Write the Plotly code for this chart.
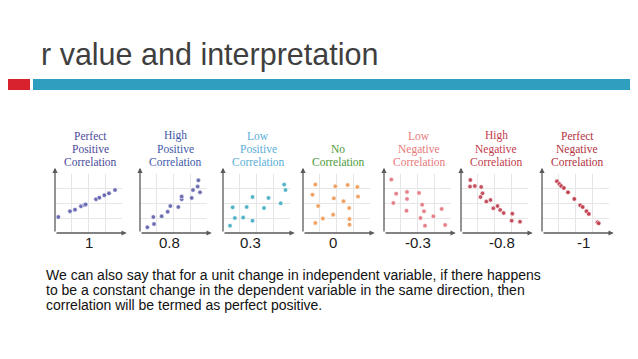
import plotly.graph_objects as go

# ---- data ----
panel_titles = [["Perfect", "Positive", "Correlation"], ["High", "Positive", "Correlation"],
                ["Low", "Positive", "Correlation"], ["No", "Correlation"],
                ["Low", "Negative", "Correlation"], ["High", "Negative", "Correlation"],
                ["Perfect", "Negative", "Correlation"]]
r_labels = ["1", "0.8", "0.3", "0", "-0.3", "-0.8", "-1"]

p1_x = [0.2, 0.9, 1.2, 1.56, 1.76, 1.84, 2.46, 2.66, 2.96, 3.24, 3.6]
p1_y = [1.09, 1.48, 1.59, 1.82, 1.91, 1.95, 2.3, 2.41, 2.57, 2.7, 2.93]
p2_x = [0.44, 0.84, 0.8, 1.3, 1.66, 1.82, 2.3, 2.5, 2.5, 3.1, 3.18, 3.46, 3.5, 3.6]
p2_y = [0.39, 0.61, 1.09, 1.14, 1.45, 1.84, 1.77, 2.3, 2.48, 2.39, 2.93, 3.16, 3.59, 2.77]
p3_x = [0.42, 0.71, 0.58, 1.21, 1.42, 1.77, 1.77, 2.46, 2.73, 3.46, 3.67, 3.75]
p3_y = [0.5, 1.02, 1.75, 1.05, 1.77, 2.45, 0.84, 1.7, 2.39, 2.02, 3.3, 2.93]
p4_x = [0.74, 0.57, 1.94, 2.68, 3.26, 3.3, 1.85, 2.43, 2.77, 0.91, 1.81, 1.19, 0.74, 2.79, 2.79]
p4_y = [3.3, 2.61, 3.18, 3.27, 3.14, 2.48, 2.36, 2.16, 1.7, 1.84, 1.25, 0.98, 0.68, 0.95, 0.57]
p5_x = [0.44, 0.73, 0.56, 1.38, 1.38, 2.1, 1.35, 2.29, 3.46, 2.4, 2.96, 2.19, 2.46, 3.67]
p5_y = [3.64, 2.68, 2.05, 2.8, 2.32, 2.73, 1.52, 1.93, 1.64, 1.48, 1.14, 1.02, 0.5, 0.55]
p6_x = [0.56, 0.54, 0.83, 1.21, 1.29, 1.17, 1.52, 1.77, 1.94, 2.19, 2.35, 2.56, 3.08, 3.04, 3.54]
p6_y = [3.61, 3.16, 3.2, 3.14, 2.7, 2.45, 2.14, 2.25, 1.68, 1.84, 1.57, 1.36, 1.32, 0.84, 0.77]
p7_x = [0.9, 1.04, 1.15, 1.31, 1.56, 1.94, 2.29, 2.44, 2.67, 2.81, 3.33, 3.4]
p7_y = [3.52, 3.34, 3.2, 3.07, 2.77, 2.32, 1.89, 1.77, 1.48, 1.3, 0.73, 0.66]

xs = [p1_x, p2_x, p3_x, p4_x, p5_x, p6_x, p7_x]
ys = [p1_y, p2_y, p3_y, p4_y, p5_y, p6_y, p7_y]

title_text = "r value and interpretation"
body_lines = ["We can also say that for a unit change in independent variable, if there happens",
              "to be a constant change in the dependent variable in the same direction, then",
              "correlation will be termed as perfect positive."]

# ---- styling ----
# the page body has an 8px margin, so the figure is drawn 8px in from the window edge
OFF = 8
W, H = 638 - OFF, 359 - OFF
title_colors = ["#4b4b9c", "#3e58a8", "#5aaed6", "#4f9a3c", "#e87a7c", "#c23c4c", "#b33240"]
dot_colors = ["#6a6ab4", "#6d6db2", "#52b2c8", "#f0a060", "#e5808a", "#c4505f", "#c2404f"]
panel_left = [55, 140, 223, 303, 384, 461, 542]
label_cx = [89, 169, 250, 333, 418, 502, 583]
panel_w = 67
y_bottom, y_top = 233, 174
title_line_y = [136, 149, 162]

def px(x):
    return (x - OFF) / W

def py(y):
    return 1 - (y - OFF) / H

fig = go.Figure()
annotations = []
shapes = []
layout_axes = {}

for i in range(7):
    n = "" if i == 0 else str(i + 1)
    xa, ya = "x" + n, "y" + n
    fig.add_trace(go.Scatter(
        x=xs[i], y=ys[i], mode="markers", xaxis=xa, yaxis=ya,
        marker=dict(size=4.5, color=dot_colors[i], line=dict(width=1, color="rgba(255,255,255,0.6)")),
        showlegend=False, hoverinfo="skip"))
    common = dict(showgrid=True, gridcolor="#e6e6e6", gridwidth=1, dtick=1,
                  showticklabels=False, ticks="", zeroline=False, showline=False,
                  fixedrange=True)
    layout_axes["xaxis" + n] = dict(domain=[px(panel_left[i]), px(panel_left[i] + panel_w)],
                                     range=[0, 4.02], anchor=ya, **common)
    layout_axes["yaxis" + n] = dict(domain=[py(y_bottom), py(y_top)],
                                     range=[0, 4.02], anchor=xa, **common)
    # axes with arrow heads
    for (tx, ty) in [(4.3, 0), (0, 4.45)]:
        annotations.append(dict(x=tx, y=ty, ax=0, ay=0, xref=xa, yref=ya, axref=xa, ayref=ya,
                                text="", showarrow=True, arrowhead=2, arrowsize=0.8,
                                arrowwidth=1.3, arrowcolor="#5a5a5a", standoff=0, startstandoff=0))
    # panel title, one annotation per line, bottom aligned
    lines = panel_titles[i]
    ypos = title_line_y[-len(lines):]
    for line, yy in zip(lines, ypos):
        annotations.append(dict(x=px(panel_left[i] + 35), y=py(yy), xref="paper", yref="paper",
                                text=line, showarrow=False, xanchor="center", yanchor="middle",
                                font=dict(family="Liberation Serif, DejaVu Serif, serif", size=11.5,
                                          color=title_colors[i])))
    # r value
    annotations.append(dict(x=px(label_cx[i]), y=py(242), xref="paper", yref="paper",
                            text=r_labels[i], showarrow=False, xanchor="center", yanchor="middle",
                            font=dict(family="Liberation Sans, Arial, sans-serif", size=15,
                                      color="#1a1a1a")))

# slide title
annotations.append(dict(x=px(39), y=py(54), xref="paper", yref="paper", text=title_text,
                        showarrow=False, xanchor="left", yanchor="middle",
                        font=dict(family="Liberation Sans, Arial, sans-serif",
                                  size=30.5, color="#3f3f3f")))
# body text
for k, line in enumerate(body_lines):
    annotations.append(dict(x=px(44), y=py(275 + 15 * k), xref="paper", yref="paper", text=line,
                            showarrow=False, xanchor="left", yanchor="middle",
                            font=dict(family="Liberation Sans, Arial, sans-serif", size=14,
                                      color="#111111")))

# colour bars under the title
shapes.append(dict(type="rect", xref="paper", yref="paper", x0=px(0), x1=px(30), y0=py(90), y1=py(79),
                   fillcolor="#d8222d", line=dict(width=0), layer="below"))
shapes.append(dict(type="rect", xref="paper", yref="paper", x0=px(33), x1=1, y0=py(90), y1=py(79),
                   fillcolor="#2f9fc0", line=dict(width=0), layer="below"))

fig.update_layout(width=W, height=H, margin=dict(l=0, r=0, t=0, b=0),
                  paper_bgcolor="white", plot_bgcolor="white",
                  annotations=annotations, shapes=shapes, **layout_axes)

fig.write_html("out.html")
